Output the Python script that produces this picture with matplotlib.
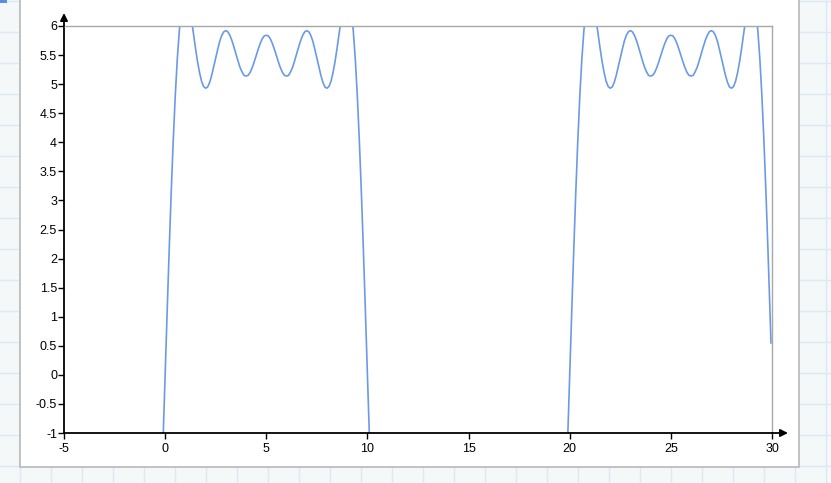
import matplotlib.pyplot as plt
from matplotlib.patches import Rectangle
from matplotlib.lines import Line2D

plt.rcParams['font.family'] = ['Liberation Sans', 'DejaVu Sans']
plt.rcParams['axes.unicode_minus'] = False

# sample positions of the first hump
x_left = [-0.1, 0.0, 0.1, 0.2, 0.3, 0.4, 0.5, 0.6, 0.7, 0.8, 0.9, 1.0, 1.1, 1.2, 1.3, 1.4,
          1.5, 1.6, 1.7, 1.8, 1.9, 2.0, 2.1, 2.2, 2.3, 2.4, 2.5, 2.6, 2.7, 2.8, 2.9, 3.0,
          3.1, 3.2, 3.3, 3.4, 3.5, 3.6, 3.7, 3.8, 3.9, 4.0, 4.1, 4.2, 4.3, 4.4, 4.5, 4.6,
          4.7, 4.8, 4.9, 5.0, 5.1, 5.2, 5.3, 5.4, 5.5, 5.6, 5.7, 5.8, 5.9, 6.0, 6.1, 6.2,
          6.3, 6.4, 6.5, 6.6, 6.7, 6.8, 6.9, 7.0, 7.1, 7.2, 7.3, 7.4, 7.5, 7.6, 7.7, 7.8,
          7.9, 8.0, 8.1, 8.2, 8.3, 8.4, 8.5, 8.6, 8.7, 8.8, 8.9, 9.0, 9.1, 9.2, 9.3, 9.4,
          9.5, 9.6, 9.7, 9.8, 9.9, 10.0, 10.1]
# values (same shape repeats for both humps)
y_hump = [-1.09, 0.0, 1.09, 2.15, 3.14, 4.03, 4.80, 5.43, 5.92, 6.25, 6.44, 6.50, 6.45, 6.31, 6.11, 5.87,
          5.62, 5.39, 5.20, 5.05, 4.96, 4.93, 4.95, 5.03, 5.15, 5.30, 5.45, 5.60, 5.74, 5.84, 5.90, 5.92,
          5.90, 5.84, 5.75, 5.64, 5.52, 5.40, 5.29, 5.21, 5.15, 5.14, 5.15, 5.20, 5.28, 5.38, 5.49, 5.60,
          5.70, 5.78, 5.83, 5.84, 5.83, 5.78, 5.70, 5.60, 5.49, 5.38, 5.28, 5.20, 5.15, 5.14, 5.15, 5.21,
          5.29, 5.40, 5.52, 5.64, 5.75, 5.84, 5.90, 5.92, 5.90, 5.84, 5.74, 5.60, 5.45, 5.30, 5.15, 5.03,
          4.95, 4.93, 4.96, 5.05, 5.20, 5.39, 5.62, 5.87, 6.11, 6.31, 6.45, 6.50, 6.44, 6.25, 5.92, 5.43,
          4.80, 4.03, 3.14, 2.15, 1.09, 0.0, -1.09]

# sample positions of the second hump (cut at the right edge)
x_right = [19.9, 20.0, 20.1, 20.2, 20.3, 20.4, 20.5, 20.6, 20.7, 20.8, 20.9, 21.0, 21.1, 21.2, 21.3, 21.4,
           21.5, 21.6, 21.7, 21.8, 21.9, 22.0, 22.1, 22.2, 22.3, 22.4, 22.5, 22.6, 22.7, 22.8, 22.9, 23.0,
           23.1, 23.2, 23.3, 23.4, 23.5, 23.6, 23.7, 23.8, 23.9, 24.0, 24.1, 24.2, 24.3, 24.4, 24.5, 24.6,
           24.7, 24.8, 24.9, 25.0, 25.1, 25.2, 25.3, 25.4, 25.5, 25.6, 25.7, 25.8, 25.9, 26.0, 26.1, 26.2,
           26.3, 26.4, 26.5, 26.6, 26.7, 26.8, 26.9, 27.0, 27.1, 27.2, 27.3, 27.4, 27.5, 27.6, 27.7, 27.8,
           27.9, 28.0, 28.1, 28.2, 28.3, 28.4, 28.5, 28.6, 28.7, 28.8, 28.9, 29.0, 29.1, 29.2, 29.3, 29.4,
           29.5, 29.6, 29.7, 29.8, 29.9, 29.95]
y_right = y_hump[:101] + [0.55]

x_ticks = [-5, 0, 5, 10, 15, 20, 25, 30]
y_ticks = [-1, -0.5, 0, 0.5, 1, 1.5, 2, 2.5, 3, 3.5, 4, 4.5, 5, 5.5, 6]
y_tick_labels = ['-1', '-0.5', '0', '0.5', '1', '1.5', '2', '2.5', '3', '3.5', '4', '4.5', '5', '5.5', '6']

W, H = 831, 483
fig = plt.figure(figsize=(W / 100, H / 100), dpi=100)
fig.patch.set_facecolor('#f4f8f8')

# graph-paper background
for gx in range(20, W, 31):
    fig.add_artist(Line2D([gx / W, gx / W], [0, 1], color='#dce8f4', lw=1, zorder=-20))
for gy in range(1, H, 31):
    fig.add_artist(Line2D([0, 1], [1 - gy / H, 1 - gy / H], color='#dce8f4', lw=1, zorder=-20))

# white panel
fig.add_artist(Rectangle((20 / W, 1 - 467 / H), (799 - 20) / W, 467 / H + 0.01,
                         facecolor='white', edgecolor='#b8b8b8', lw=1.2, zorder=-10))
fig.add_artist(Rectangle((0, 1 - 3 / H), 7 / W, 3 / H, facecolor='#5a8fe0',
                         edgecolor='none', zorder=-5))

ax = fig.add_axes([64 / W, 1 - 433 / H, (772 - 64) / W, (433 - 26) / H])
ax.set_facecolor('white')
ax.plot(x_left, y_hump, color='#6a9ae6', lw=1.2)
ax.plot(x_right, y_right, color='#6a9ae6', lw=1.2)

ax.set_xlim(-5, 30)
ax.set_ylim(-1, 6)
ax.set_xticks(x_ticks)
ax.set_yticks(y_ticks)
ax.set_yticklabels(y_tick_labels)
ax.tick_params(length=4, width=1, labelsize=9, colors='black')
ax.tick_params(axis='y', pad=1)
ax.tick_params(axis='x', pad=3)

for s in ['left', 'bottom']:
    ax.spines[s].set_color('black')
    ax.spines[s].set_linewidth(1.3)
for s in ['top', 'right']:
    ax.spines[s].set_color('#a8a8a8')
    ax.spines[s].set_linewidth(1)

# axis arrows
ax.annotate('', xy=(0, 1 + 13 / 407), xytext=(0, 1), xycoords='axes fraction',
            arrowprops=dict(arrowstyle='-|>', color='black', lw=1.3, mutation_scale=11,
                            shrinkA=0, shrinkB=0))
ax.annotate('', xy=(1 + 16 / 708, 0), xytext=(1, 0), xycoords='axes fraction',
            arrowprops=dict(arrowstyle='-|>', color='black', lw=1.3, mutation_scale=11,
                            shrinkA=0, shrinkB=0))

fig.savefig('out.png', dpi=100, facecolor=fig.get_facecolor())
